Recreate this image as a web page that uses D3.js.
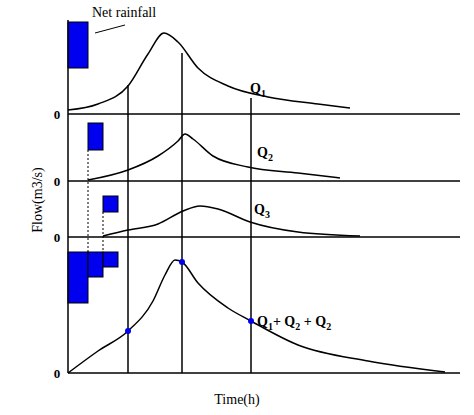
<!DOCTYPE html><html><head><script src="https://cdn.jsdelivr.net/npm/d3@7"></script>
<style>body{margin:0;background:#fff}</style></head><body><svg id="c" width="474" height="415"></svg>
<script>
// time units (t) and flow units (q) per panel
const q1 = [[0,4],[30,10],[60,28],[80,60],[96,81],[110,72],[130,46],[160,28],[200,17],[250,10],[282,6]];
const q2 = [[20,1],[60,11],[90,25],[110,40],[117,47],[125,42],[145,25],[180,14],[230,8],[272,3]];
const q3 = [[35,1],[60,7],[90,13],[115,26],[132,31],[150,28],[182,15],[230,5],[292,1]];
const qs = [[0,0],[30,22],[60,42],[85,72],[97,98],[107,113],[114,111],[130,90],[160,65],[183,52],[230,28],[300,12],[377,1]];
const rain1 = [{t0:0,t1:20,h:46}];
const rain2 = [{t0:20,t1:35,h:27}];
const rain3 = [{t0:35,t1:50,h:16}];
const rainSum = [{t0:0,t1:20,h:51},{t0:20,t1:35,h:25},{t0:35,t1:50,h:15}];
const markT = [60,114,183];
const pts = [[60,42],[114,111],[183,52]];

const svg = d3.select("#c");
const x = d3.scaleLinear().domain([0,392]).range([68,460]);
const font = "Liberation Serif, Times New Roman, serif";
const panels = [
  {base:114, data:q1, rain:rain1, rainTop:22, lab:[250,97], parts:[["Q",0],["1",1]]},
  {base:181, data:q2, rain:rain2, rainTop:123, lab:[257,161], parts:[["Q",0],["2",1]]},
  {base:237, data:q3, rain:rain3, rainTop:196, lab:[254,218], parts:[["Q",0],["3",1]]},
  {base:373, data:qs, rain:rainSum, rainTop:252, lab:[257,330], parts:[["Q",0],["1",1],["+ Q",0],["2",1],[" + Q",0],["2",1]]}
];
panels.forEach(p=>{
  const y = d3.scaleLinear().domain([0,1]).range([p.base,p.base-1]);
  svg.append("line").attr("x1",x(0)).attr("x2",x(392)).attr("y1",p.base).attr("y2",p.base).attr("stroke","#000").attr("stroke-width",1.5);
  svg.append("text").attr("x",57).attr("y",p.base+5).attr("font-family",font).attr("font-weight","bold").attr("font-size",13).attr("text-anchor","middle").text("0");
  svg.append("path").datum(p.data).attr("fill","none").attr("stroke","#000").attr("stroke-width",1.5)
    .attr("d",d3.line().x(d=>x(d[0])).y(d=>y(d[1])).curve(d3.curveMonotoneX));
  svg.selectAll(null).data(p.rain).enter().append("rect")
    .attr("x",d=>x(d.t0)).attr("width",d=>x(d.t1)-x(d.t0))
    .attr("y",p.rainTop).attr("height",d=>d.h).attr("fill","#0000ee").attr("stroke","#000").attr("stroke-width",1);
  const t = svg.append("text").attr("x",p.lab[0]).attr("y",p.lab[1]).attr("font-family",font).attr("font-weight","bold").attr("font-size",14).attr("xml:space","preserve");
  p.parts.forEach(([s,sub])=>{
    if(sub) t.append("tspan").attr("dy",4).attr("font-size",10).text(s);
    else t.append("tspan").attr("dy",sub===0 && t.selectAll("tspan").size()>0?-4:0).text(s);
  });
});
svg.append("line").attr("x1",x(0)).attr("x2",x(0)).attr("y1",20).attr("y2",373).attr("stroke","#000").attr("stroke-width",1.5);
const vTops=[85,53,98];
markT.forEach((t,i)=>svg.append("line").attr("x1",x(t)).attr("x2",x(t)).attr("y1",vTops[i]).attr("y2",373).attr("stroke","#000").attr("stroke-width",1.5));
[[20,150],[35,212]].forEach(d=>svg.append("line").attr("x1",x(d[0])).attr("x2",x(d[0])).attr("y1",d[1]).attr("y2",252).attr("stroke","#000").attr("stroke-dasharray","2,2"));
const ys = d3.scaleLinear().domain([0,1]).range([373,372]);
svg.selectAll(null).data(pts).enter().append("circle").attr("cx",d=>x(d[0])).attr("cy",d=>ys(d[1])).attr("r",3).attr("fill","#0000ee");
svg.append("text").attr("x",92).attr("y",17).attr("font-family",font).attr("font-size",14).text("Net rainfall");
svg.append("line").attr("x1",95).attr("y1",33).attr("x2",125).attr("y2",25).attr("stroke","#000");
svg.append("text").attr("transform","translate(42,200) rotate(-90)").attr("text-anchor","middle").attr("font-family",font).attr("font-size",14).text("Flow(m3/s)");
svg.append("text").attr("x",237).attr("y",404).attr("text-anchor","middle").attr("font-family",font).attr("font-size",14).text("Time(h)");
</script></body></html>
